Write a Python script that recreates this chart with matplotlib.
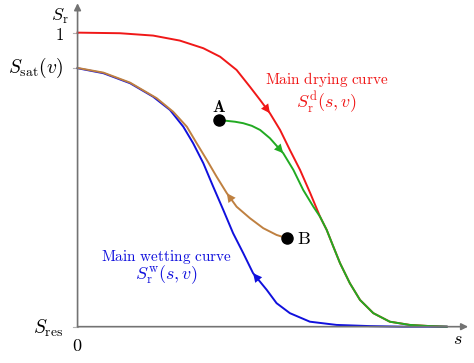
import matplotlib
matplotlib.use("Agg")
import matplotlib.pyplot as plt

plt.rcParams['mathtext.fontset'] = 'cm'
plt.rcParams['font.family'] = ['DejaVu Serif']

# suction s (normalised) and degree of saturation Sr (Sres = 0, 1 = 1)
drying_s = [0.000, 0.108, 0.193, 0.261, 0.321, 0.364, 0.406, 0.440, 0.466, 0.491,
            0.517, 0.542, 0.568, 0.594, 0.619, 0.636, 0.653, 0.670, 0.695, 0.721,
            0.755, 0.797, 0.848, 0.899, 0.942]
drying_sr = [1.000, 0.998, 0.990, 0.973, 0.947, 0.918, 0.873, 0.816, 0.771, 0.726,
             0.669, 0.601, 0.533, 0.454, 0.374, 0.329, 0.272, 0.216, 0.148, 0.091,
             0.046, 0.017, 0.006, 0.002, 0.000]

wetting_s = [0.000, 0.066, 0.134, 0.193, 0.236, 0.270, 0.295, 0.321, 0.346, 0.372,
             0.397, 0.423, 0.448, 0.483, 0.508, 0.542, 0.593, 0.661, 0.746, 0.831,
             0.942]
wetting_sr = [0.879, 0.862, 0.828, 0.782, 0.737, 0.680, 0.624, 0.556, 0.477, 0.397,
              0.318, 0.250, 0.182, 0.125, 0.080, 0.046, 0.017, 0.006, 0.002, 0.000,
              0.000]

# scanning drying path from A, joining the main drying curve
scan_a_s = [0.361, 0.381, 0.402, 0.423, 0.445, 0.466, 0.491, 0.525, 0.551, 0.576,
            0.602, 0.619, 0.636, 0.653, 0.670, 0.695, 0.721, 0.755, 0.797, 0.848,
            0.899, 0.942]
scan_a_sr = [0.702, 0.700, 0.697, 0.692, 0.683, 0.669, 0.641, 0.590, 0.533, 0.465,
             0.408, 0.374, 0.329, 0.272, 0.216, 0.148, 0.091, 0.046, 0.017, 0.006,
             0.002, 0.000]

# scanning wetting path from B, joining near Ssat
scan_b_s = [0.534, 0.508, 0.474, 0.440, 0.406, 0.381, 0.355, 0.330, 0.304, 0.279,
            0.244, 0.202, 0.134, 0.066, 0.000]
scan_b_sr = [0.301, 0.312, 0.335, 0.369, 0.408, 0.454, 0.510, 0.567, 0.624, 0.680,
             0.731, 0.777, 0.830, 0.864, 0.880]

ssat = 0.880

red = '#f01818'
blue = '#1010dd'
green = '#22aa22'
brown = '#bf8040'

fig = plt.figure(figsize=(4.74, 3.63), dpi=100)
ax = fig.add_axes([0, 0, 1, 1])
ax.set_xlim(-0.198, 1.012)
ax.set_ylim(-0.1235, 1.111)
ax.axis('off')

# axes with arrows
ax.annotate('', xy=(0.997, 0), xytext=(0, 0),
            arrowprops=dict(arrowstyle='-|>', color='0.45', lw=1.2,
                            mutation_scale=10, shrinkA=0, shrinkB=0))
ax.annotate('', xy=(0, 1.10), xytext=(0, 0),
            arrowprops=dict(arrowstyle='-|>', color='0.45', lw=1.2,
                            mutation_scale=10, shrinkA=0, shrinkB=0))
for yv in [0, ssat, 1.0]:
    ax.plot([-0.012, 0], [yv, yv], color='0.7', lw=0.8)

ax.plot(drying_s, drying_sr, color=red, lw=1.4)
ax.plot(wetting_s, wetting_sr, color=blue, lw=1.4)
ax.plot(scan_b_s, scan_b_sr, color=brown, lw=1.4)
ax.plot(scan_a_s, scan_a_sr, color=green, lw=1.4)


def head(xs, ys, i, j, c):
    ax.annotate('', xy=(xs[j], ys[j]), xytext=(xs[i], ys[i]),
                arrowprops=dict(arrowstyle='-|>', color=c, lw=0,
                                mutation_scale=16, shrinkA=0, shrinkB=0))


head(drying_s, drying_sr, 8, 9, red)
head(scan_a_s, scan_a_sr, 6, 7, green)
head(scan_b_s, scan_b_sr, 4, 5, brown)
head(wetting_s, wetting_sr, 13, 12, blue)

ax.plot([scan_a_s[0]], [scan_a_sr[0]], 'o', color='black', ms=8)
ax.plot([scan_b_s[0]], [scan_b_sr[0]], 'o', color='black', ms=8)
ax.text(0.361, 0.745, r'$\mathbf{A}$', ha='center', va='center', fontsize=12)
ax.text(0.559, 0.298, r'$\mathrm{B}$', ha='left', va='center', fontsize=13)

ax.text(0.636, 0.839, r'$\mathrm{Main\ drying\ curve}$', color=red,
        ha='center', va='center', fontsize=11)
ax.text(0.636, 0.765, r'$S_{\mathrm{r}}^{\mathrm{d}}(s,v)$', color=red,
        ha='center', va='center', fontsize=13)
ax.text(0.228, 0.238, r'$\mathrm{Main\ wetting\ curve}$', color=blue,
        ha='center', va='center', fontsize=11)
ax.text(0.228, 0.176, r'$S_{\mathrm{r}}^{\mathrm{w}}(s,v)$', color=blue,
        ha='center', va='center', fontsize=13)

ax.text(-0.046, 1.054, r'$S_{\mathrm{r}}$', ha='center', va='center', fontsize=13)
ax.text(-0.046, 0.990, r'$1$', ha='center', va='center', fontsize=12)
ax.text(-0.037, ssat, r'$S_{\mathrm{sat}}(v)$', ha='right', va='center', fontsize=14)
ax.text(-0.037, -0.004, r'$S_{\mathrm{res}}$', ha='right', va='center', fontsize=14)
ax.text(0.0, -0.066, r'$0$', ha='center', va='center', fontsize=13)
ax.text(0.970, -0.043, r'$s$', ha='center', va='center', fontsize=13)

fig.savefig('out.png', dpi=100)
